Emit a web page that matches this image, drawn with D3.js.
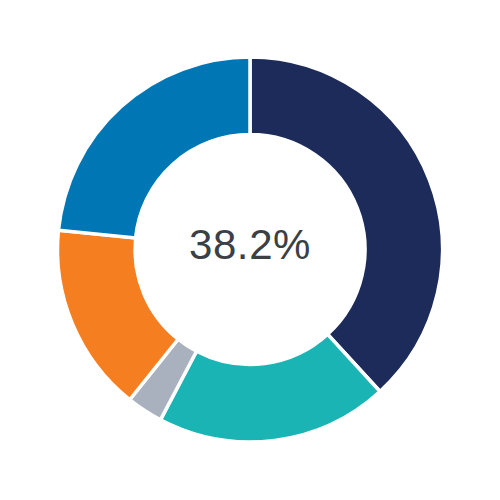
<!DOCTYPE html>
<html>
<head>
<meta charset="utf-8">
<script src="https://cdn.jsdelivr.net/npm/d3@7"></script>
<style>
html,body{margin:0;padding:0;background:#fff;}
svg{display:block;}
</style>
</head>
<body>
<script>
const categories = ["A", "B", "C", "D", "E"];
const values = [38.2, 19.5, 3.05, 15.85, 23.4];
const colors = ["#1c2b5a", "#1bb4b4", "#a8b1bd", "#f47e20", "#0077b5"];
const centerLabel = "38.2%";

const W = 500, H = 500;
const cx = 250, cy = 249.5, R = 192.5, r = 115;

const svg = d3.select("body").append("svg").attr("width", W).attr("height", H);
const g = svg.append("g").attr("transform", `translate(${cx},${cy})`);

const pie = d3.pie().sort(null).value(d => d.v);
const arc = d3.arc().innerRadius(r).outerRadius(R);
const data = categories.map((c, i) => ({c, v: values[i], col: colors[i]}));

g.selectAll("path").data(pie(data)).join("path")
  .attr("d", arc)
  .attr("fill", d => d.data.col)
  .attr("stroke", "#fff")
  .attr("stroke-width", 3.5)
  .attr("stroke-linejoin", "miter");

g.append("text")
  .attr("x", 0).attr("y", 9.5)
  .attr("text-anchor", "middle")
  .attr("font-family", "'Liberation Sans', Arial, sans-serif")
  .attr("font-size", 42)
  .attr("letter-spacing", 0.6)
  .attr("fill", "#3b4046")
  .text(centerLabel);
</script>
</body>
</html>
